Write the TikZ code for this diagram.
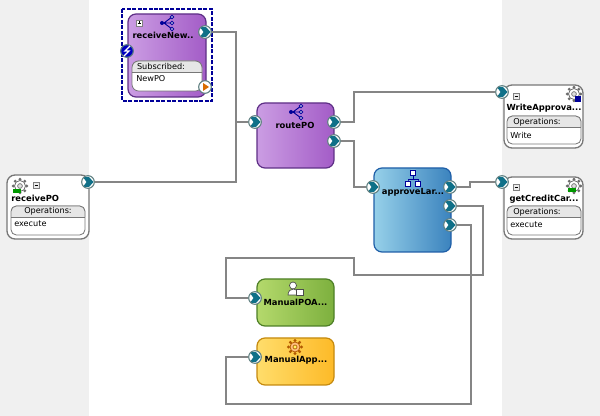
\documentclass[tikz,border=0pt]{standalone}
\usepackage{fontspec}
\setmainfont{DejaVu Sans}
\usetikzlibrary{calc}
\definecolor{panel}{HTML}{F0F0F0}
\definecolor{wire}{HTML}{858585}
\definecolor{teal1}{HTML}{0F7088}
\definecolor{portline}{HTML}{5E7F80}
\definecolor{hdr}{HTML}{E6E6E6}
\definecolor{svcline}{HTML}{777777}
\definecolor{gearc}{HTML}{6E6E6E}
\definecolor{pa}{HTML}{CB9DE3}\definecolor{pb}{HTML}{A35CC7}\definecolor{pc}{HTML}{5E2F86}
\definecolor{ba}{HTML}{96D0E9}\definecolor{bb}{HTML}{3B83BE}\definecolor{bc}{HTML}{1F5FA8}
\definecolor{ga}{HTML}{B4D96C}\definecolor{gb}{HTML}{7DB03E}\definecolor{gc}{HTML}{4D7F26}
\definecolor{ya}{HTML}{FFDD6B}\definecolor{yb}{HTML}{FDBA28}\definecolor{yc}{HTML}{C58A0E}
\tikzset{
  x=0.75pt,y=-0.75pt,
  wire/.style={draw=wire,line width=0.95pt,line join=miter},
  comp/.style n args={3}{rounded corners=6pt,line width=0.9pt,draw=#3,left color=#1,right color=#2},
  cPurple/.style={comp={pa}{pb}{pc}},
  cBlue/.style={comp={ba}{bb}{bc}},
  cGreen/.style={comp={ga}{gb}{gc}},
  cYellow/.style={comp={ya}{yb}{yc}},
  svc/.style={draw=svcline,line width=1pt,fill=white,rounded corners=6pt},
  ops/.style={draw=svcline,line width=0.6pt,fill=white,rounded corners=4pt},
  title/.style={font=\bfseries\fontsize{6.3pt}{8pt}\selectfont,inner sep=0pt,text=black},
  small/.style={font=\fontsize{6.1pt}{7pt}\selectfont,inner sep=0pt,text=black},
  port/.style={circle,draw=portline,line width=0.8pt,fill=white,minimum size=9.5pt,inner sep=0pt,
    path picture={\fill[teal1] ([shift={(-5,-5)}]path picture bounding box.center)
      -- ++(6,0) -- ++(4.5,5) -- ++(-4.5,5) -- ++(-6,0) -- ++(3.5,-5) -- cycle;}},
  fold/.style={draw=gray,line width=0.4pt,fill=white},
}
\newcommand{\gearicon}[2]{%
  \foreach \a in {0,45,...,315}{\fill[gearc] ($(#1,#2)+(\a:6.8)$) circle (1.6);}
  \draw[fill=white,draw=gearc,line width=0.6pt] (#1,#2) circle (5.5);
  \draw[fill=gray!25,draw=gearc,line width=0.5pt] (#1,#2) circle (2.4);}
\newcommand{\treeicon}[3]{%
  \draw[#3,line width=0.7pt] (#1+5,#2-6) -- (#1-3,#2) -- (#1+5,#2+6) (#1-3,#2) -- (#1+5,#2);
  \fill[#3] (#1-5,#2) circle (2);
  \foreach \d in {-6,0,6}{\draw[fill=white,draw=#3,line width=0.6pt] (#1+5,#2+\d) circle (1.8);}}
\begin{document}
\begin{tikzpicture}
\useasboundingbox (0,0) rectangle (600,416);
\fill[panel] (0,0) rectangle (600,416);
\fill[white] (89,0) rectangle (502,416);
% receiveNew
\draw[draw=blue!60!black,line width=1.5pt,dash pattern=on 3pt off 1.1pt] (122,9) rectangle (212,101);
\path[cPurple] (128,14) rectangle (206,97);
\draw[fold] (136,20) rectangle (142,26);
\draw[line width=0.4pt] (137.5,23) -- (140.5,23) (139,21.5) -- (139,24.5);
\treeicon{167}{23}{blue!60!black}
\node[title] (rnt) at (163,35) {receiveNew..};
\draw[svc,line width=0.6pt,rounded corners=5pt] (132,61) rectangle (202,91);
\begin{scope}
\clip (132,61) rectangle (202,72);
\fill[hdr,rounded corners=5pt] (132,61) rectangle (202,91);
\draw[svcline,line width=0.6pt,rounded corners=5pt] (132,61) rectangle (202,91);
\end{scope}
\draw[svcline,line width=0.4pt] (132,72) -- (202,72);
\node[small] (rns) at (161,66.5) {Subscribed:};
\node[small,anchor=west] (rnp) at (136,78.5) {NewPO};
% receivePO
\draw[svc] (7,175) rectangle (89,239);
\gearicon{20}{186}
\fill[green!60!black] (13,189) rectangle (21,193);
\draw[fold,fill=gray!15] (33,182) rectangle (39,188);
\draw[line width=0.4pt] (34.5,185) -- (37.5,185);
\node[title,anchor=west] (rpt) at (11,198.5) {receivePO};
\draw[ops] (11,206) rectangle (85,235);
\begin{scope}\clip (11,206) rectangle (85,217);
\fill[hdr,rounded corners=4pt] (11,206) rectangle (85,235);
\draw[svcline,line width=0.6pt,rounded corners=4pt] (11,206) rectangle (85,235);\end{scope}
\draw[svcline,line width=0.4pt] (11,217) -- (85,217);
\node[small] (rpo) at (48,211.5) {Operations:};
\node[small,anchor=west] (rpe) at (14,224) {execute};
% routePO
\path[cPurple] (257,103) rectangle (334,168);
\treeicon{296}{112}{blue!60!black}
\node[title] (rot) at (295,125) {routePO};
% approve
\path[cBlue] (374,168) rectangle (451,252);
\draw[blue!60!black,line width=0.6pt] (413,175)--(413,179) (408,183)--(408,179)--(418,179)--(418,183);
\draw[fill=white,draw=blue!60!black,line width=0.5pt] (410.5,170) rectangle (415.5,175) (405.5,181) rectangle (410.5,186) (415.5,181) rectangle (420.5,186);
\node[title] (apt) at (413,192) {approveLar...};
% Manual POA
\path[cGreen] (257,279) rectangle (334,326);
\draw[fill=white,draw=black!70,line width=0.5pt] (293,285.5) circle (3.5);
\draw[fill=white,draw=black!70,line width=0.5pt] (288,295) .. controls (288,287) and (299,287) .. (299,295) -- cycle;
\draw[fill=white,draw=black!70,line width=0.5pt] (296,289) rectangle (303,295);
\node[title] (mpt) at (295.5,302) {ManualPOA...};
% Manual App
\path[cYellow] (257,338) rectangle (334,385);
\foreach \a in {0,45,...,315}{\fill[orange!70!black] ($(295,347)+(\a:6.5)$) circle (1.6);}
\draw[fill=orange!50,draw=orange!70!black,line width=0.6pt] (295,347) circle (5);
\draw[fill=yellow!60,draw=orange!70!black,line width=0.5pt] (295,347) circle (2);
\node[title] (mat) at (296,360) {ManualApp...};
% WriteApproval
\draw[svc] (504,85) rectangle (583,148);
\draw[fold,fill=gray!15] (513,93) rectangle (519,99);
\draw[line width=0.4pt] (514.5,96) -- (517.5,96);
\gearicon{574}{94}
\fill[blue!60!black] (575,96) rectangle (581,102);
\node[title] (wat) at (544,108.5) {WriteApprova...};
\draw[ops] (507,116) rectangle (581,144);
\begin{scope}\clip (507,116) rectangle (581,127);
\fill[hdr,rounded corners=4pt] (507,116) rectangle (581,144);
\draw[svcline,line width=0.6pt,rounded corners=4pt] (507,116) rectangle (581,144);\end{scope}
\draw[svcline,line width=0.4pt] (507,127) -- (581,127);
\node[small] (wao) at (537,122) {Operations:};
\node[small,anchor=west] (wae) at (510,135) {Write};
% getCredit
\draw[svc] (504,177) rectangle (583,239);
\draw[fold,fill=gray!15] (513,184) rectangle (519,190);
\draw[line width=0.4pt] (514.5,187) -- (517.5,187);
\gearicon{574}{186}
\fill[green!60!black] (568,188) rectangle (576,192);
\node[title] (gct) at (544,199.5) {getCreditCar...};
\draw[ops] (507,206) rectangle (581,235);
\begin{scope}\clip (507,206) rectangle (581,217);
\fill[hdr,rounded corners=4pt] (507,206) rectangle (581,235);
\draw[svcline,line width=0.6pt,rounded corners=4pt] (507,206) rectangle (581,235);\end{scope}
\draw[svcline,line width=0.4pt] (507,217) -- (581,217);
\node[small] (gco) at (537,212) {Operations:};
\node[small,anchor=west] (gce) at (510,225) {execute};
% ports
\node[port] (rnOut) at (205,32) {};
\node[circle,draw=portline,line width=0.8pt,fill=blue!75!black,minimum size=9.5pt,inner sep=0pt] (rnEv) at (127,51) {};
\draw[white,line width=1pt] (130,46) -- (125,51) -- (129,51) -- (124,56);
\node[circle,draw=portline,line width=0.8pt,fill=white,minimum size=9.5pt,inner sep=0pt] (rnPlay) at (205,87) {};
\fill[orange!85!black] (203,83) -- (209,87) -- (203,91) -- cycle;
\node[port] (rpOut) at (88,182) {};
\node[port] (roIn) at (255,122) {};
\node[port] (roOut1) at (334,122) {};
\node[port] (roOut2) at (334,141) {};
\node[port] (apIn) at (373,187) {};
\node[port] (apOut1) at (450,187) {};
\node[port] (apOut2) at (450,206) {};
\node[port] (apOut3) at (450,225) {};
\node[port] (mpIn) at (255,298) {};
\node[port] (maIn) at (255,357) {};
\node[port] (waIn) at (502,92) {};
\node[port] (gcIn) at (502,182) {};
% connectors
\path[wire] (rnOut) -- (236,32) -- (236,122) -- (roIn);
\path[wire] (rpOut) -- (236,182) -- (236,122);
\path[wire] (roOut1) -- (354,122) -- (354,92) -- (waIn);
\path[wire] (roOut2) -- (354,141) -- (354,187) -- (apIn);
\path[wire] (apOut1) -- (470,187) -- (470,182) -- (gcIn);
\path[wire] (apOut2) -- (483,206) -- (483,275) -- (354,275) -- (354,258) -- (226,258) -- (226,298) -- (mpIn);
\path[wire] (apOut3) -- (471,225) -- (471,404) -- (226,404) -- (226,357) -- (maIn);
\end{tikzpicture}
\end{document}
